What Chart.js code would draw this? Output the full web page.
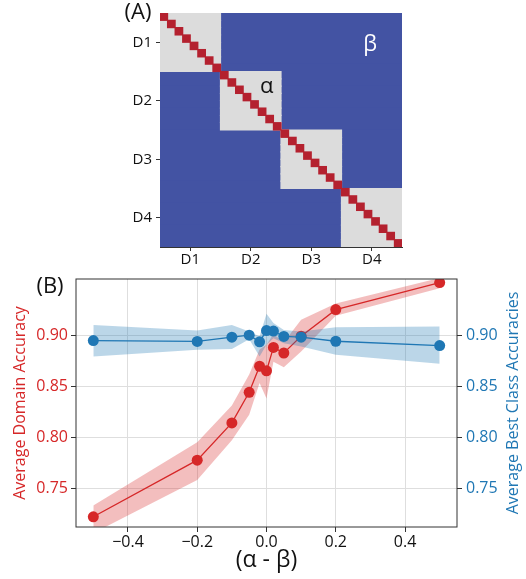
<!DOCTYPE html>
<html>
<head>
<meta charset="utf-8">
<script src="https://cdn.jsdelivr.net/npm/chart.js@4.4.1/dist/chart.umd.min.js"></script>
<style>
  html, body { margin: 0; padding: 0; background: #fff; }
  body { width: 526px; height: 579px; position: relative; overflow: hidden; }
  #topWrap { position: absolute; left: 0; top: 0; width: 526px; height: 265px; }
  #bottomWrap { position: absolute; left: 0; top: 265px; width: 526px; height: 314px; }
</style>
</head>
<body>
<div id="topWrap"><canvas id="matrixChart"></canvas></div>
<div id="bottomWrap"><canvas id="accChart"></canvas></div>
<script>
// ---------------- data ----------------
const domains = ["D1", "D2", "D3", "D4"];
const classesPerDomain = 8;

const alphaMinusBeta = [-0.5, -0.2, -0.1, -0.05, -0.02, 0.0, 0.02, 0.05, 0.1, 0.2, 0.5];
const domainAcc     = [0.722, 0.7775, 0.814, 0.844, 0.8695, 0.865, 0.888, 0.8825, 0.899, 0.925, 0.9515];
const domainAccHigh = [0.733, 0.795, 0.831, 0.8615, 0.886, 0.8905, 0.901, 0.893, 0.915, 0.931, 0.956];
const domainAccLow  = [0.706, 0.758, 0.797, 0.822, 0.853, 0.838, 0.874, 0.8685, 0.884, 0.919, 0.946];
const classAcc      = [0.8947, 0.8938, 0.898, 0.900, 0.8934, 0.9045, 0.904, 0.8987, 0.898, 0.894, 0.8898];
const classAccHigh  = [0.910, 0.9045, 0.910, 0.9036, 0.8987, 0.921, 0.912, 0.905, 0.9036, 0.9078, 0.9085];
const classAccLow   = [0.879, 0.8856, 0.8863, 0.896, 0.879, 0.8905, 0.897, 0.892, 0.8888, 0.8807, 0.872];

const xTicks = [-0.4, -0.2, 0.0, 0.2, 0.4];
const yTicks = [0.75, 0.80, 0.85, 0.90];

const RED = "#d62728";
const BLUE = "#1f77b4";
const FONT = "'Open Sans', 'DejaVu Sans', sans-serif";

Chart.defaults.font.family = FONT;
Chart.defaults.color = "#111";

// ---------------- (A) class x class matrix ----------------
const nCells = domains.length * classesPerDomain;
const rows = [];
for (let r = 0; r < nCells; r++) rows.push(r);

// red = same class, grey = same domain (alpha), blue = other domains (beta)
const diagCells = rows.map(r => ({ y: r + 0.5, x: [r, r + 1] }));
const alphaCells = rows.map(r => {
  const d = Math.floor(r / classesPerDomain);
  return { y: r + 0.5, x: [d * classesPerDomain, (d + 1) * classesPerDomain] };
});
const betaCells = rows.map(r => ({ y: r + 0.5, x: [0, nCells] }));

const domainTicks = s => {
  s.ticks = domains.map((d, i) => ({ value: i * classesPerDomain + classesPerDomain / 2 }));
};

const matrixLabels = {
  id: "matrixLabels",
  afterDraw(chart) {
    const { ctx, scales } = chart;
    ctx.save();
    ctx.textAlign = "center";
    ctx.textBaseline = "alphabetic";
    ctx.font = "22px " + FONT;
    ctx.fillStyle = "#111";
    ctx.fillText("α", scales.x.getPixelForValue(14.1), scales.y.getPixelForValue(11.0));
    ctx.fillStyle = "#fff";
    ctx.fillText("β", scales.x.getPixelForValue(27.8), scales.y.getPixelForValue(5.2));
    ctx.fillStyle = "#111";
    ctx.fillText("(A)", 138, 19);
    ctx.restore();
  }
};

new Chart(document.getElementById("matrixChart"), {
  type: "bar",
  data: {
    datasets: [
      { data: diagCells, backgroundColor: "#b4212f" },
      { data: alphaCells, backgroundColor: "#dcdcdc" },
      { data: betaCells, backgroundColor: "#4353a3" }
    ]
  },
  options: {
    indexAxis: "y",
    responsive: true,
    maintainAspectRatio: false,
    animation: false,
    grouped: false,
    barPercentage: 1,
    categoryPercentage: 1,
    borderWidth: 0,
    inflateAmount: 0.6,
    layout: { padding: { left: 0, right: 124, top: 6, bottom: 0 } },
    plugins: { legend: { display: false }, tooltip: { enabled: false } },
    scales: {
      y: {
        type: "linear", min: 0, max: nCells, reverse: true, offset: false,
        afterBuildTicks: domainTicks,
        afterFit: s => { s.width = 160; },
        ticks: { autoSkip: false, callback: (v, i) => domains[i], font: { size: 15 }, color: "#111", padding: 4 },
        grid: { drawOnChartArea: false, tickLength: 4, tickColor: "#333", offset: false },
        border: { color: "#333" }
      },
      x: {
        type: "linear", min: 0, max: nCells, offset: false,
        afterBuildTicks: domainTicks,
        afterFit: s => { s.height = 18; },
        ticks: { autoSkip: false, maxRotation: 0, callback: (v, i) => domains[i], font: { size: 15 }, color: "#111", padding: 0 },
        grid: { drawOnChartArea: false, tickLength: 4, tickColor: "#333", offset: false },
        border: { color: "#333" }
      }
    }
  },
  plugins: [matrixLabels]
});

// ---------------- (B) accuracy vs (alpha - beta) ----------------
const pts = arr => alphaMinusBeta.map((x, i) => ({ x: x, y: arr[i] }));
const minusSign = v => (Math.abs(v) < 1e-9 ? "0.0" : v.toFixed(1).replace("-", "\u2212"));

const accDecor = {
  id: "accDecor",
  afterDraw(chart) {
    const { ctx, chartArea: a } = chart;
    ctx.save();
    ctx.strokeStyle = "#333";
    ctx.lineWidth = 1;
    ctx.strokeRect(a.left, a.top, a.right - a.left, a.bottom - a.top);
    // right-hand axis title, reading bottom to top
    ctx.translate(513, (a.top + a.bottom) / 2);
    ctx.rotate(-Math.PI / 2);
    ctx.textAlign = "center";
    ctx.textBaseline = "middle";
    ctx.font = "16px " + FONT;
    ctx.fillStyle = BLUE;
    ctx.fillText("Average Best Class Accuracies", 0, 0);
    ctx.restore();
    ctx.save();
    ctx.font = "22px " + FONT;
    ctx.fillStyle = "#111";
    ctx.textAlign = "center";
    ctx.fillText("(B)", 50, 28);
    ctx.restore();
  }
};

new Chart(document.getElementById("accChart"), {
  type: "line",
  data: {
    datasets: [
      { data: pts(classAcc), yAxisID: "y1", borderColor: BLUE, backgroundColor: BLUE,
        borderWidth: 1.3, pointRadius: 5.5, pointBorderWidth: 0, fill: false },
      { data: pts(classAccHigh), yAxisID: "y1", borderWidth: 0, pointRadius: 0,
        backgroundColor: "rgba(31,119,180,0.3)", fill: "+1" },
      { data: pts(classAccLow), yAxisID: "y1", borderWidth: 0, pointRadius: 0, fill: false },
      { data: pts(domainAcc), yAxisID: "y", borderColor: RED, backgroundColor: RED,
        borderWidth: 1.3, pointRadius: 5.5, pointBorderWidth: 0, fill: false },
      { data: pts(domainAccHigh), yAxisID: "y", borderWidth: 0, pointRadius: 0,
        backgroundColor: "rgba(214,39,40,0.3)", fill: "+1" },
      { data: pts(domainAccLow), yAxisID: "y", borderWidth: 0, pointRadius: 0, fill: false }
    ]
  },
  options: {
    responsive: true,
    maintainAspectRatio: false,
    animation: false,
    layout: { padding: { left: 0, right: 0, top: 14, bottom: 0 } },
    plugins: { legend: { display: false }, tooltip: { enabled: false } },
    scales: {
      x: {
        type: "linear", min: -0.55, max: 0.55,
        afterBuildTicks: s => { s.ticks = xTicks.map(v => ({ value: v })); },
        afterFit: s => { s.height = 52; },
        ticks: { callback: v => minusSign(v), font: { size: 16 }, color: "#111", padding: 1, maxRotation: 0 },
        grid: { color: "#dedede", tickLength: 5, tickColor: "#333" },
        border: { display: false },
        title: { display: true, text: "(α - β)", font: { size: 23 }, color: "#111", padding: { top: 0, bottom: 5 } }
      },
      y: {
        type: "linear", position: "left", min: 0.712, max: 0.955,
        afterBuildTicks: s => { s.ticks = yTicks.map(v => ({ value: v })); },
        afterFit: s => { s.width = 76; },
        ticks: { callback: v => v.toFixed(2), font: { size: 16 }, color: RED, padding: 3 },
        grid: { color: "#dedede", tickLength: 5, tickColor: "#333" },
        border: { display: false },
        title: { display: true, text: "Average Domain Accuracy", font: { size: 16 }, color: RED, padding: { top: 11, bottom: 0 } }
      },
      y1: {
        type: "linear", position: "right", min: 0.712, max: 0.955,
        afterBuildTicks: s => { s.ticks = yTicks.map(v => ({ value: v })); },
        afterFit: s => { s.width = 69; },
        ticks: { callback: v => v.toFixed(2), font: { size: 16 }, color: BLUE, padding: 4 },
        grid: { drawOnChartArea: false, tickLength: 5, tickColor: "#333" },
        border: { display: false }
      }
    }
  },
  plugins: [accDecor]
});
</script>
</body>
</html>
